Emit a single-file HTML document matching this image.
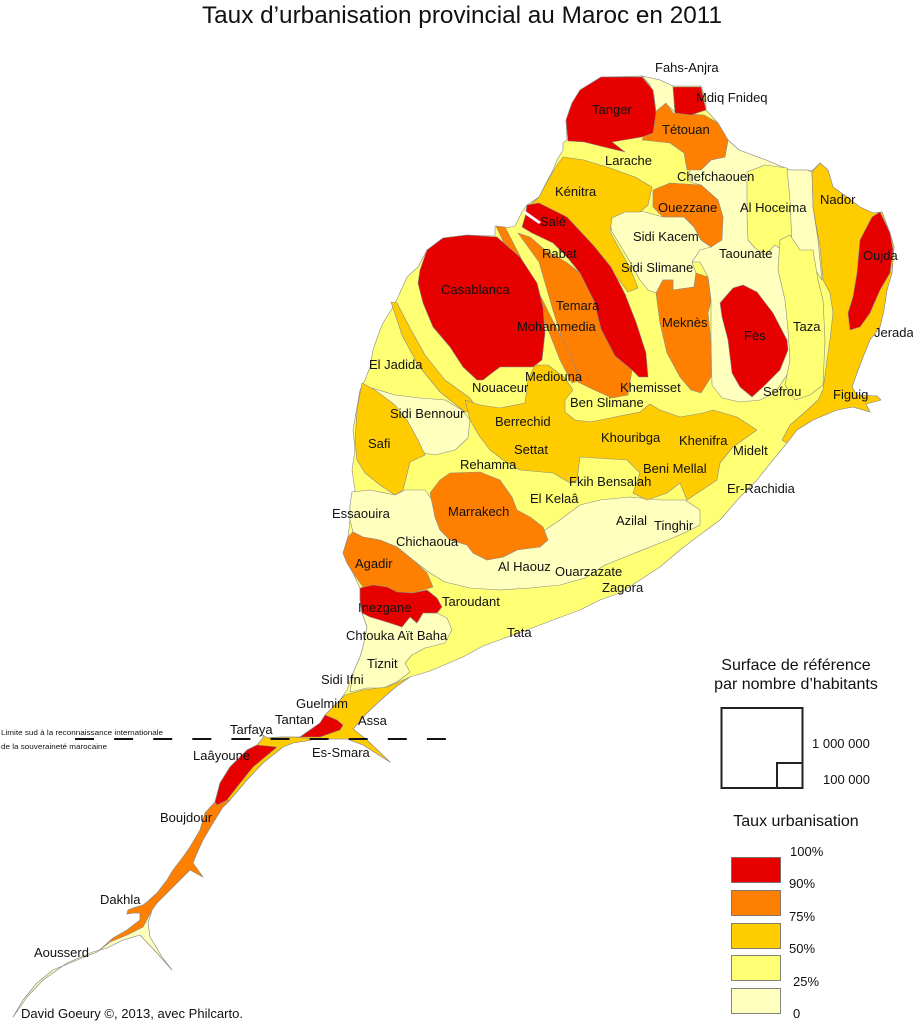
<!DOCTYPE html>
<html><head><meta charset="utf-8"><style>
html,body{margin:0;padding:0;background:#fff;}
svg{display:block;}
text{font-family:"Liberation Sans",Arial,sans-serif;fill:#111;}
.l{font-size:13px;}
</style></head><body>
<svg width="913" height="1024" viewBox="0 0 913 1024" xmlns="http://www.w3.org/2000/svg">
<rect width="913" height="1024" fill="#fff"/>
<g stroke="#8a8a8a" stroke-width="0.6" stroke-linejoin="round">
<!-- base outline -->
<path fill="#ffff73" d="M566,120 L572,103 L580,90 L601,77 L642,76 L660,80 L673,86 L701,86 L706,100 L706,110 L718,123 L728,140 L739,150 L766,160 L790,170 L807,170 L812,171 L820,163 L828,170 L833,187 L847,197 L860,207 L873,213 L882,212 L890,233 L894,247 L892,273 L887,290 L884,310 L880,327 L870,340 L863,357 L857,373 L852,387 L857,395 L877,396 L881,400 L866,404 L870,412 L853,407 L837,410 L813,420 L797,430 L787,443 L773,460 L757,480 L740,497 L720,520 L697,537 L680,550 L660,567 L640,580 L620,593 L600,600 L580,610 L553,620 L527,630 L505,638 L483,646 L463,657 L430,671 L410,677 L397,686 L383,698 L367,713 L353,729 L367,740 L390,762 L363,745 L347,739 L317,739 L293,743 L283,747 L263,763 L247,780 L230,800 L223,807 L213,823 L203,840 L197,853 L193,863 L203,877 L190,870 L180,880 L167,893 L157,903 L152,910 L148,923 L150,937 L162,957 L172,970 L157,953 L140,935 L123,940 L107,948 L93,952 L67,963 L43,980 L27,997 L13,1017 L23,1000 L37,983 L53,970 L77,960 L97,952 L103,947 L113,938 L127,930 L140,920 L140,913 L133,913 L127,914 L128,910 L133,908 L143,905 L147,902 L157,893 L167,880 L173,870 L183,857 L190,847 L200,830 L205,813 L215,802 L220,783 L230,767 L247,750 L257,745 L263,738 L263,735 L267,738 L280,737 L300,737 L320,723 L325,715 L333,707 L340,700 L347,690 L353,673 L360,657 L363,647 L367,627 L362,613 L360,600 L360,588 L353,573 L347,563 L343,553 L348,537 L350,520 L350,505 L355,490 L352,470 L355,450 L353,430 L357,407 L360,390 L365,380 L370,367 L373,350 L380,330 L383,323 L393,307 L398,297 L407,277 L418,267 L427,250 L443,238 L467,235 L495,236 L495,226 L505,228 L515,226 L522,212 L527,205 L539,197 L545,185 L553,170 L557,160 L563,150 L563,143 L567,140 Z"/>
<!-- pale -->
<g fill="#ffffbe">
<path d="M642,76 L660,80 L673,86 L674,100 L675,112 L666,104 L656,112 L654,95 L650,85 Z"/>
<path d="M690,168 L701,170 L711,160 L725,157 L728,140 L739,150 L766,160 L790,170 L807,170 L812,172 L813,207 L818,240 L822,280 L812,265 L795,268 L785,280 L790,330 L790,370 L775,393 L760,400 L740,402 L722,398 L712,385 L711,343 L711,300 L708,277 L700,262 L692,262 L700,248 L711,247 L721,240 L723,217 L718,200 L701,185 L690,182 Z"/>
<path d="M608,215 L625,210 L645,212 L663,217 L684,217 L694,227 L701,240 L711,247 L700,250 L692,262 L696,273 L694,287 L673,290 L673,280 L663,280 L656,293 L648,290 L640,280 L630,262 L620,245 L612,232 Z"/>
<path d="M372,388 L395,395 L420,398 L445,400 L462,410 L470,420 L468,438 L455,450 L435,455 L418,452 L405,435 L395,420 L382,405 Z"/>
<path d="M352,492 L370,490 L395,495 L405,490 L425,490 L432,500 L435,517 L440,530 L450,540 L467,545 L473,553 L487,560 L503,557 L517,550 L530,540 L545,530 L560,520 L580,505 L600,500 L630,497 L660,500 L685,500 L700,510 L700,525 L680,535 L655,545 L630,555 L605,565 L585,578 L560,585 L530,588 L500,590 L470,588 L445,582 L430,573 L413,560 L397,547 L380,540 L363,537 L353,532 L350,520 L350,505 Z"/>
<path d="M362,613 L375,617 L390,623 L402,627 L410,617 L417,623 L423,613 L437,613 L447,618 L452,630 L445,643 L425,648 L412,655 L405,663 L410,672 L397,682 L383,688 L367,688 L350,692 L353,673 L360,657 L363,647 L367,627 Z"/>
<path d="M152,910 L148,923 L150,937 L162,957 L172,970 L157,953 L140,935 L123,940 L107,948 L93,952 L67,963 L43,980 L27,997 L13,1017 L23,1000 L37,983 L53,970 L77,960 L97,952 L110,942 L127,935 L143,927 Z"/>
</g>
<!-- yellow overlays -->
<g fill="#ffff73">
<path d="M747,172 L765,165 L787,168 L790,200 L792,245 L785,252 L775,245 L765,255 L755,248 L748,240 L747,215 Z"/>
<path d="M780,240 L790,235 L800,250 L813,250 L818,280 L823,300 L825,340 L823,385 L810,395 L795,400 L785,385 L790,360 L788,330 L785,300 L778,270 Z"/>
</g>
<!-- gold -->
<g fill="#ffcc00">
<path d="M557,165 L563,157 L584,160 L610,168 L635,177 L652,187 L648,205 L640,212 L625,212 L612,218 L610,232 L620,250 L630,268 L638,288 L628,292 L615,275 L600,255 L580,235 L560,222 L540,212 L528,207 L539,197 L547,182 Z"/>
<path d="M812,172 L820,163 L828,170 L833,187 L847,197 L860,207 L873,213 L882,212 L890,233 L894,247 L892,273 L887,290 L884,310 L880,327 L870,340 L863,357 L857,373 L852,387 L857,395 L877,396 L881,400 L866,404 L870,412 L853,407 L837,410 L813,420 L797,430 L787,443 L782,440 L790,425 L805,412 L818,400 L823,390 L827,360 L830,340 L833,313 L830,293 L823,280 L820,247 L813,207 Z"/>
<path d="M391,302 L397,303 L410,328 L425,355 L445,380 L470,398 L478,410 L465,412 L440,392 L418,365 L402,335 Z"/>
<path d="M465,400 L480,405 L500,408 L525,403 L528,380 L535,365 L548,365 L565,378 L573,390 L565,400 L565,412 L575,420 L590,422 L610,418 L640,412 L650,404 L660,410 L680,417 L703,413 L713,410 L737,417 L757,430 L733,447 L720,463 L717,480 L687,500 L680,483 L667,493 L647,500 L633,493 L640,473 L627,460 L580,457 L577,480 L570,483 L553,473 L520,470 L503,460 L490,450 L480,437 L470,420 Z"/>
<path d="M362,383 L375,390 L395,405 L407,420 L418,440 L425,455 L410,462 L403,490 L395,495 L380,485 L365,473 L357,460 L355,440 L357,410 Z"/>
<path d="M333,707 L345,695 L363,690 L387,687 L410,677 L397,686 L383,698 L367,713 L353,729 L367,740 L390,762 L363,745 L347,739 L317,739 L293,743 L280,745 L270,741 L263,738 L280,737 L300,737 L320,723 L325,715 Z"/>
<path d="M257,745 L263,738 L263,735 L267,738 L290,737 L317,739 L293,743 L283,747 L263,763 L247,780 L230,800 L223,807 L215,802 L220,783 L230,767 L247,750 Z"/>
</g>
<!-- orange -->
<g fill="#ff8000">
<path d="M654,113 L666,103 L673,113 L704,115 L718,123 L728,140 L725,157 L711,160 L701,170 L687,170 L684,153 L670,143 L642,140 L649,127 Z"/>
<path d="M653,190 L670,183 L701,185 L718,200 L723,217 L722,240 L711,247 L701,240 L694,227 L684,217 L663,217 L653,207 Z"/>
<path d="M656,293 L663,280 L673,280 L673,290 L694,287 L696,273 L708,277 L711,301 L708,313 L711,343 L711,377 L701,393 L691,390 L680,377 L667,353 L660,323 Z"/>
<path d="M518,233 L530,237 L545,250 L566,262 L580,273 L594,300 L601,329 L615,356 L632,370 L628,395 L612,398 L590,388 L578,382 L567,355 L553,310 L539,262 Z"/>
<path d="M496,226 L505,227 L522,260 L539,293 L556,327 L570,353 L580,380 L572,383 L560,360 L547,327 L530,293 L512,260 Z"/>
<path d="M430,493 L440,480 L450,473 L480,472 L500,480 L512,497 L517,510 L530,517 L543,527 L548,540 L540,547 L517,550 L503,557 L487,560 L473,553 L467,545 L450,540 L440,530 L435,517 Z"/>
<path d="M343,553 L348,537 L353,532 L363,537 L380,540 L397,547 L413,560 L427,573 L433,587 L413,593 L397,592 L383,590 L363,587 L353,573 L347,563 Z"/>
<path d="M215,802 L217,805 L227,800 L230,800 L223,807 L213,823 L203,840 L197,853 L193,863 L203,877 L190,870 L180,880 L167,893 L157,903 L152,910 L143,927 L127,935 L110,942 L97,952 L103,947 L113,938 L127,930 L140,920 L140,913 L133,913 L127,914 L128,910 L133,908 L143,905 L147,902 L157,893 L167,880 L173,870 L183,857 L190,847 L200,830 L205,813 Z"/>
</g>
<!-- red -->
<g fill="#e60000">
<path d="M566,120 L572,103 L580,90 L601,77 L642,77 L653,90 L656,113 L653,133 L642,137 L612,142 L625,152 L604,147 L584,142 L568,141 Z"/>
<path d="M673,87 L701,87 L706,110 L691,115 L675,113 Z"/>
<path d="M527,205 L539,203 L567,217 L594,246 L611,267 L625,294 L636,322 L646,353 L648,377 L639,377 L632,370 L615,356 L601,329 L594,301 L580,273 L567,257 L553,243 L532,233 L522,227 L525,217 Z"/>
<path d="M418,283 L420,270 L427,250 L443,238 L467,235 L497,237 L520,257 L537,283 L543,307 L545,333 L542,360 L533,367 L500,367 L492,373 L483,380 L477,380 L463,367 L450,347 L433,327 L423,303 Z"/>
<path d="M720,303 L733,288 L743,285 L757,292 L773,313 L787,340 L788,350 L780,370 L763,387 L752,397 L740,387 L732,373 L728,340 L722,317 Z"/>
<path d="M860,240 L872,217 L880,212 L890,233 L893,250 L890,273 L880,290 L870,313 L860,327 L850,330 L848,313 L853,297 L857,273 Z"/>
<path d="M360,588 L373,585 L387,587 L397,592 L413,593 L427,590 L437,598 L442,607 L437,613 L423,613 L417,623 L410,617 L402,627 L390,623 L370,617 L362,613 L360,600 Z"/>
<path d="M300,737 L320,723 L325,715 L337,720 L343,725 L340,730 L320,737 Z"/>
<path d="M215,802 L220,783 L230,767 L247,750 L257,745 L277,747 L270,753 L253,767 L237,787 L227,800 L217,805 Z"/>
</g>
</g>
<path d="M524,210 L541,222 L539,224 L523,213 Z" fill="#fff"/>
<!-- dashed limit -->
<line x1="75" y1="739" x2="447" y2="739" stroke="#111" stroke-width="2" stroke-dasharray="19 20.1"/>
<text x="1" y="735" font-size="7.5" textLength="162" lengthAdjust="spacingAndGlyphs">Limite sud à la reconnaissance internationale</text>
<text x="1" y="749" font-size="7.5" textLength="106" lengthAdjust="spacingAndGlyphs">de la souveraineté marocaine</text>
<!-- title -->
<text x="202" y="23" font-size="24" fill="#000" textLength="520" lengthAdjust="spacingAndGlyphs">Taux d’urbanisation provincial au Maroc en 2011</text>
<!-- labels -->
<g class="l">
<text x="655" y="72">Fahs-Anjra</text>
<text x="696" y="102">Mdiq Fnideq</text>
<text x="592" y="114">Tanger</text>
<text x="662" y="134">Tétouan</text>
<text x="605" y="165">Larache</text>
<text x="677" y="181">Chefchaouen</text>
<text x="555" y="196">Kénitra</text>
<text x="658" y="212">Ouezzane</text>
<text x="740" y="212">Al Hoceima</text>
<text x="820" y="204">Nador</text>
<text x="540" y="226">Salé</text>
<text x="633" y="241">Sidi Kacem</text>
<text x="542" y="258">Rabat</text>
<text x="719" y="258">Taounate</text>
<text x="863" y="260">Oujda</text>
<text x="621" y="272">Sidi Slimane</text>
<text x="441" y="294">Casablanca</text>
<text x="556" y="310">Temara</text>
<text x="517" y="331">Mohammedia</text>
<text x="662" y="327">Meknès</text>
<text x="793" y="331">Taza</text>
<text x="874" y="337">Jerada</text>
<text x="744" y="340">Fès</text>
<text x="369" y="369">El Jadida</text>
<text x="525" y="381">Mediouna</text>
<text x="472" y="392">Nouaceur</text>
<text x="620" y="392">Khemisset</text>
<text x="763" y="396">Sefrou</text>
<text x="570" y="407">Ben Slimane</text>
<text x="833" y="399">Figuig</text>
<text x="390" y="418">Sidi Bennour</text>
<text x="495" y="426">Berrechid</text>
<text x="368" y="448">Safi</text>
<text x="601" y="442">Khouribga</text>
<text x="679" y="445">Khenifra</text>
<text x="514" y="454">Settat</text>
<text x="733" y="455">Midelt</text>
<text x="460" y="469">Rehamna</text>
<text x="643" y="473">Beni Mellal</text>
<text x="569" y="486">Fkih Bensalah</text>
<text x="727" y="493">Er-Rachidia</text>
<text x="530" y="503">El Kelaâ</text>
<text x="332" y="518">Essaouira</text>
<text x="448" y="516">Marrakech</text>
<text x="616" y="525">Azilal</text>
<text x="654" y="530">Tinghir</text>
<text x="396" y="546">Chichaoua</text>
<text x="355" y="568">Agadir</text>
<text x="498" y="571">Al Haouz</text>
<text x="555" y="576">Ouarzazate</text>
<text x="602" y="592">Zagora</text>
<text x="358" y="612">Inezgane</text>
<text x="442" y="606">Taroudant</text>
<text x="507" y="637">Tata</text>
<text x="346" y="640">Chtouka Aït Baha</text>
<text x="367" y="668">Tiznit</text>
<text x="321" y="684">Sidi Ifni</text>
<text x="296" y="708">Guelmim</text>
<text x="275" y="724">Tantan</text>
<text x="358" y="725">Assa</text>
<text x="230" y="734">Tarfaya</text>
<text x="312" y="757">Es-Smara</text>
<text x="193" y="760">Laâyoune</text>
<text x="160" y="822">Boujdour</text>
<text x="100" y="904">Dakhla</text>
<text x="34" y="957">Aousserd</text>
<text x="21" y="1018" textLength="222" lengthAdjust="spacingAndGlyphs">David Goeury ©, 2013, avec Philcarto.</text>
</g>
<!-- legend -->
<text x="796" y="670" font-size="16" text-anchor="middle" fill="#000">Surface de référence</text>
<text x="796" y="689" font-size="16" text-anchor="middle" fill="#000">par nombre d’habitants</text>
<rect x="721.5" y="708" width="81" height="80" fill="none" stroke="#222" stroke-width="2"/>
<rect x="777" y="763" width="25.5" height="25" fill="none" stroke="#222" stroke-width="2"/>
<text x="812" y="748" font-size="13">1 000 000</text>
<text x="823" y="784" font-size="13">100 000</text>
<text x="796" y="826" font-size="16" text-anchor="middle" fill="#000">Taux urbanisation</text>
<g stroke="#666" stroke-width="0.8">
<rect x="731.5" y="857.5" width="49" height="25" fill="#e60000"/>
<rect x="731.5" y="890.5" width="49" height="25" fill="#ff8000"/>
<rect x="731.5" y="923.5" width="49" height="25" fill="#ffcc00"/>
<rect x="731.5" y="955.5" width="49" height="25" fill="#ffff73"/>
<rect x="731.5" y="988.5" width="49" height="25" fill="#ffffbe"/>
</g>
<g font-size="13">
<text x="790" y="856">100%</text>
<text x="789" y="888">90%</text>
<text x="789" y="921">75%</text>
<text x="789" y="953">50%</text>
<text x="793" y="986">25%</text>
<text x="793" y="1018">0</text>
</g>
</svg>
</body></html>
